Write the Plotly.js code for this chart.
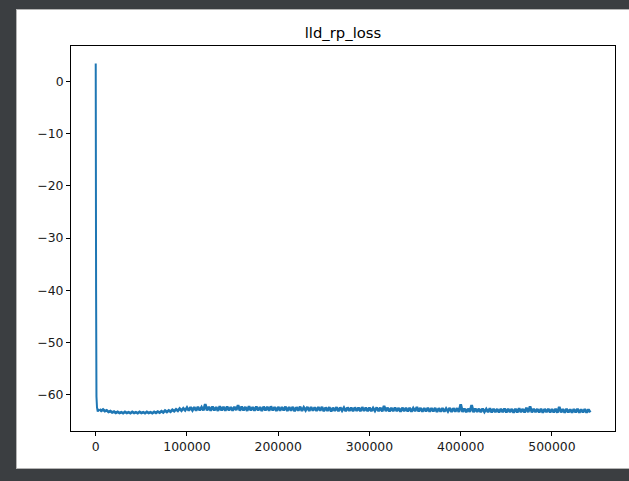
<!DOCTYPE html>
<html>
<head>
<meta charset="utf-8">
<script src="https://cdn.plot.ly/plotly-3.0.1.min.js"></script>
<style>
  html, body { margin: 0; padding: 0; width: 629px; height: 481px; overflow: hidden; background: #3b3e41; }
  #frame { position: absolute; left: 16px; top: 9px; border: 1px solid #b4b4b4; background: #ffffff; }
  #plot { width: 613px; height: 458px; }
</style>
</head>
<body>
<div id="frame"><div id="plot"></div></div>
<script>
const chartTitle = "lld_rp_loss";

const steps = [
  0, 400, 800, 1400, 2200, 3000,
  4000, 6000, 8000, 10000, 12000, 14000, 16000, 18000,
  20000, 22000, 24000, 26000, 28000, 30000, 32000, 34000, 36000, 38000,
  40000, 42000, 44000, 46000, 48000, 50000, 52000, 54000, 56000, 58000,
  60000, 62000, 64000, 66000, 68000, 70000, 72000, 74000, 76000, 78000,
  80000, 82000, 84000, 86000, 88000, 90000, 92000, 94000, 96000, 98000,
  100000, 102000, 104000, 106000, 108000, 110000, 112000, 114000, 116000, 118000,
  120000, 122000, 124000, 126000, 128000, 130000, 132000, 134000, 136000, 138000,
  140000, 142000, 144000, 146000, 148000, 150000, 152000, 154000, 156000, 158000,
  160000, 162000, 164000, 166000, 168000, 170000, 172000, 174000, 176000, 178000,
  180000, 182000, 184000, 186000, 188000, 190000, 192000, 194000, 196000, 198000,
  200000, 202000, 204000, 206000, 208000, 210000, 212000, 214000, 216000, 218000,
  220000, 222000, 224000, 226000, 228000, 230000, 232000, 234000, 236000, 238000,
  240000, 242000, 244000, 246000, 248000, 250000, 252000, 254000, 256000, 258000,
  260000, 262000, 264000, 266000, 268000, 270000, 272000, 274000, 276000, 278000,
  280000, 282000, 284000, 286000, 288000, 290000, 292000, 294000, 296000, 298000,
  300000, 302000, 304000, 306000, 308000, 310000, 312000, 314000, 316000, 318000,
  320000, 322000, 324000, 326000, 328000, 330000, 332000, 334000, 336000, 338000,
  340000, 342000, 344000, 346000, 348000, 350000, 352000, 354000, 356000, 358000,
  360000, 362000, 364000, 366000, 368000, 370000, 372000, 374000, 376000, 378000,
  380000, 382000, 384000, 386000, 388000, 390000, 392000, 394000, 396000, 398000,
  400000, 402000, 404000, 406000, 408000, 410000, 412000, 414000, 416000, 418000,
  420000, 422000, 424000, 426000, 428000, 430000, 432000, 434000, 436000, 438000,
  440000, 442000, 444000, 446000, 448000, 450000, 452000, 454000, 456000, 458000,
  460000, 462000, 464000, 466000, 468000, 470000, 472000, 474000, 476000, 478000,
  480000, 482000, 484000, 486000, 488000, 490000, 492000, 494000, 496000, 498000,
  500000, 502000, 504000, 506000, 508000, 510000, 512000, 514000, 516000, 518000,
  520000, 522000, 524000, 526000, 528000, 530000, 532000, 534000, 536000, 538000,
  540000, 542000
];

const loss = [
  3.4, -40.0, -60.3, -62.4, -63.2, -62.9,
  -62.75, -63.05, -62.8, -63.1, -62.95, -63.25, -63.1, -63.35,
  -63.2, -63.45, -63.25, -63.45, -63.3, -63.5, -63.25, -63.45, -63.3, -63.5,
  -63.25, -63.45, -63.3, -63.5, -63.25, -63.45, -63.3, -63.5, -63.25, -63.45,
  -63.3, -63.5, -63.25, -63.45, -63.2, -63.4, -63.1, -63.35, -63.0, -63.25,
  -62.95, -63.2, -62.85, -63.1, -62.75, -63.05, -62.6, -63.0, -62.55, -62.95,
  -62.4, -63.0, -62.35, -62.95, -62.35, -63.0, -62.3, -62.95, -62.35, -62.95,
  -61.75, -62.95, -62.3, -63.0, -62.25, -62.95, -62.35, -63.05, -62.15, -62.95,
  -62.3, -63.0, -62.25, -62.95, -62.35, -63.0, -62.3, -62.9, -61.95, -63.0,
  -62.25, -62.95, -62.3, -63.05, -62.15, -62.95, -62.35, -63.0, -62.25, -62.95,
  -62.35, -63.05, -62.25, -62.95, -62.3, -63.0, -62.2, -62.95, -62.35, -63.05,
  -62.3, -63.0, -62.35, -62.95, -62.25, -63.05, -62.35, -63.0, -62.3, -63.1,
  -62.35, -63.0, -62.25, -63.05, -62.4, -62.95, -62.3, -63.05, -62.35, -63.0,
  -62.4, -63.05, -62.35, -63.0, -62.3, -63.1, -62.4, -63.05, -62.35, -63.15,
  -62.45, -63.05, -62.35, -63.1, -62.4, -63.0, -62.45, -63.1, -62.4, -63.05,
  -62.45, -63.1, -62.4, -63.05, -62.45, -63.1, -62.35, -63.05, -62.45, -63.1,
  -62.45, -63.1, -62.5, -63.05, -62.4, -63.1, -62.45, -63.15, -62.1, -63.1,
  -62.45, -63.15, -62.5, -63.1, -62.4, -63.1, -62.5, -63.2, -62.45, -63.1,
  -62.5, -63.15, -62.45, -63.2, -62.55, -63.1, -62.3, -63.15, -62.5, -63.2,
  -62.55, -63.15, -62.45, -63.2, -62.55, -63.15, -62.5, -63.25, -62.55, -63.2,
  -62.55, -63.2, -62.6, -63.15, -62.5, -63.25, -62.55, -63.2, -62.55, -63.25,
  -61.8, -63.25, -62.6, -63.3, -62.65, -63.25, -61.95, -63.3, -62.6, -63.25,
  -62.65, -63.3, -62.6, -63.25, -62.7, -63.3, -62.55, -63.35, -62.65, -63.3,
  -62.7, -63.35, -62.65, -63.3, -62.6, -63.35, -62.65, -63.3, -62.7, -63.4,
  -62.65, -63.35, -62.55, -63.3, -62.7, -63.35, -62.45, -63.3, -62.2, -63.35,
  -62.65, -63.3, -62.7, -63.35, -62.65, -63.4, -62.7, -63.3, -62.65, -63.35,
  -62.7, -63.35, -62.65, -63.4, -62.3, -63.35, -62.7, -63.4, -62.65, -63.35,
  -62.75, -63.4, -62.7, -63.35, -62.65, -63.4, -62.75, -63.35, -62.7, -63.4,
  -62.75, -63.35
];

const xTickVals = [0, 100000, 200000, 300000, 400000, 500000];
const xTickText = ["0", "100000", "200000", "300000", "400000", "500000"];
const yTickVals = [0, -10, -20, -30, -40, -50, -60];

const fontFamily = "DejaVu Sans, sans-serif";

// The initial drop is drawn with a thin line; the noisy plateau with a thicker one.
const spikeEnd = 6;
const traceSpike = {
  x: steps.slice(0, spikeEnd + 1),
  y: loss.slice(0, spikeEnd + 1),
  type: "scatter",
  mode: "lines",
  line: { color: "#1f77b4", width: 2, simplify: false },
  hoverinfo: "skip"
};
const tracePlateau = {
  x: steps.slice(spikeEnd),
  y: loss.slice(spikeEnd),
  type: "scatter",
  mode: "lines",
  line: { color: "#1f77b4", width: 2.7, simplify: false },
  hoverinfo: "skip"
};

const axisCommon = {
  showline: true,
  mirror: true,
  linecolor: "#000000",
  linewidth: 1,
  ticks: "outside",
  ticklen: 4,
  tickwidth: 1,
  tickcolor: "#000000",
  showgrid: false,
  zeroline: false,
  tickfont: { family: fontFamily, size: 12.4, color: "#1a1a1a" }
};

const layout = {
  width: 613,
  height: 458,
  margin: { l: 54, r: 15, t: 36, b: 37, pad: 0 },
  paper_bgcolor: "#ffffff",
  plot_bgcolor: "#ffffff",
  showlegend: false,
  title: {
    text: chartTitle,
    font: { family: fontFamily, size: 14.8, color: "#000000" },
    x: 0.5, xref: "paper", xanchor: "center",
    y: 0.95, yref: "container", yanchor: "middle"
  },
  xaxis: Object.assign({}, axisCommon, {
    range: [-27100, 569100],
    tickmode: "array",
    tickvals: xTickVals,
    ticktext: xTickText
  }),
  yaxis: Object.assign({}, axisCommon, {
    range: [-66.9, 6.75],
    tickmode: "array",
    tickvals: yTickVals
  })
};

Plotly.newPlot("plot", [traceSpike, tracePlateau], layout, { displayModeBar: false, staticPlot: true });
</script>
</body>
</html>
